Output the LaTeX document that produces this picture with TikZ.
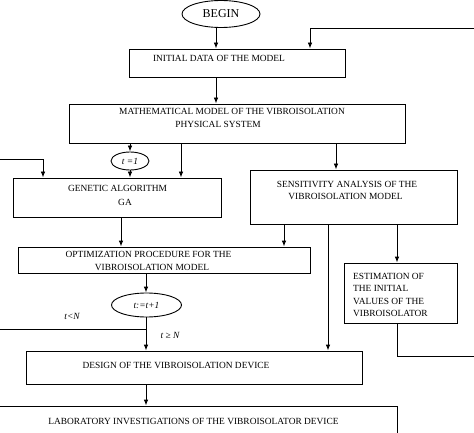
\documentclass[tikz,border=0pt]{standalone}
\usepackage{fontspec}
\setmainfont{Liberation Serif}
\usetikzlibrary{shapes.geometric,arrows.meta}
\tikzset{
  box/.style={draw, line width=0.9pt, inner sep=0pt},
  oval/.style={draw, ellipse, line width=0.9pt, inner sep=0pt},
  lbl/.style={font=\fontsize{9.4}{12}\selectfont, inner sep=0pt, anchor=base},
  arr/.style={-{Latex[length=6pt,width=4.6pt]}, line width=0.9pt},
  ln/.style={line width=0.9pt}
}
\begin{document}
\begin{tikzpicture}[x=1pt,y=-1pt]
\useasboundingbox (0,0) rectangle (474,433);
\clip (0,0) rectangle (474,433);
% boxes
\node[oval, minimum width=78pt, minimum height=27pt, font=\fontsize{12}{14}\selectfont] (begin) at (221,14) {BEGIN};
\node[box, minimum width=216pt, minimum height=28pt] (init) at (237,63) {};
\node[box, minimum width=336pt, minimum height=39pt] (math) at (237,123.5) {};
\node[oval, minimum width=38pt, minimum height=18pt, font=\fontsize{9.4}{12}\selectfont\itshape] (t1) at (130,161) {t =1};
\node[box, minimum width=208pt, minimum height=39pt] (ga) at (117,197.5) {};
\node[box, minimum width=207pt, minimum height=54pt] (sens) at (353.5,197) {};
\node[box, minimum width=292pt, minimum height=26pt] (opt) at (164,260) {};
\node[box, minimum width=113pt, minimum height=60pt] (est) at (400.5,293) {};
\node[oval, minimum width=70pt, minimum height=24pt, font=\fontsize{9.4}{12}\selectfont\itshape] (incr) at (146.5,305) {t:=t+1};
\node[box, minimum width=336pt, minimum height=33pt] (design) at (194,367.5) {};
\node[box, minimum width=402pt, minimum height=40pt] (lab) at (196,426) {};
% texts
\node[lbl] (tinit) at (219,62) {INITIAL DATA OF THE MODEL};
\node[lbl] (tmath1) at (232,115) {MATHEMATICAL MODEL OF THE VIBROISOLATION};
\node[lbl] (tmath2) at (218,128) {PHYSICAL SYSTEM};
\node[lbl] (tga1) at (117.5,192) {GENETIC ALGORITHM};
\node[lbl] (tga2) at (125,205) {GA};
\node[lbl] (tsens1) at (347,187) {SENSITIVITY ANALYSIS OF THE};
\node[lbl] (tsens2) at (345.5,199) {VIBROISOLATION MODEL};
\node[lbl] (topt1) at (148.5,257) {OPTIMIZATION PROCEDURE FOR THE};
\node[lbl] (topt2) at (152,270) {VIBROISOLATION MODEL};
\node[lbl, anchor=base west] (test1) at (353,279) {ESTIMATION OF};
\node[lbl, anchor=base west] (test2) at (353,291.5) {THE INITIAL};
\node[lbl, anchor=base west] (test3) at (353,304) {VALUES OF THE};
\node[lbl, anchor=base west] (test4) at (353,316.5) {VIBROISOLATOR};
\node[lbl] (tdes) at (176,368) {DESIGN OF THE VIBROISOLATION DEVICE};
\node[lbl] (tlab) at (193.5,424) {LABORATORY INVESTIGATIONS OF THE VIBROISOLATOR DEVICE};
\node[lbl, font=\fontsize{9.4}{12}\selectfont\itshape] (tlt) at (72,319) {t<N};
\node[lbl, font=\fontsize{9.4}{12}\selectfont\itshape] (tge) at (170,338) {t ≥ N};
% helper coordinates
\coordinate (a) at (216,0);
\coordinate (c) at (181,0);
\coordinate (d) at (336,0);
\coordinate (f) at (121,0);
\coordinate (g) at (284,0);
\coordinate (h) at (328,0);
\coordinate (k) at (397,0);
\coordinate (m) at (146,0);
\coordinate (fbin) at (480,28);
\coordinate (fbx) at (310,28);
\coordinate (lin) at (-3,159);
\coordinate (e) at (43,159);
\coordinate (br) at (146,329);
\coordinate (lout) at (-3,329);
\coordinate (estc) at (397,356);
\coordinate (rout) at (480,356);
% connectors
\draw[arr] (begin.south -| a) -- (init.north -| a);
\draw[arr] (fbin) -- (fbx) -- (init.north -| fbx);
\draw[arr] (init.south -| a) -- (math.north -| a);
\draw[arr] (math.south -| t1.north) -- (t1.north);
\draw[arr] (t1.south) -- (ga.north -| t1.south);
\draw[arr] (math.south -| c) -- (ga.north -| c);
\draw[arr] (lin) -- (e) -- (ga.north -| e);
\draw[arr] (math.south -| d) -- (sens.north -| d);
\draw[arr] (ga.south -| f) -- (opt.north -| f);
\draw[arr] (sens.south -| g) -- (opt.north -| g);
\draw[arr] (sens.south -| h) -- (design.north -| h);
\draw[arr] (sens.south -| k) -- (est.north -| k);
\draw[ln] (est.south -| k) -- (estc) -- (rout);
\draw[arr] (opt.south -| m) -- (incr.north -| m);
\draw[arr] (incr.south -| m) -- (design.north -| m);
\draw[ln] (br) -- (lout);
\draw[arr] (design.south -| m) -- (lab.north -| m);
\end{tikzpicture}
\end{document}
